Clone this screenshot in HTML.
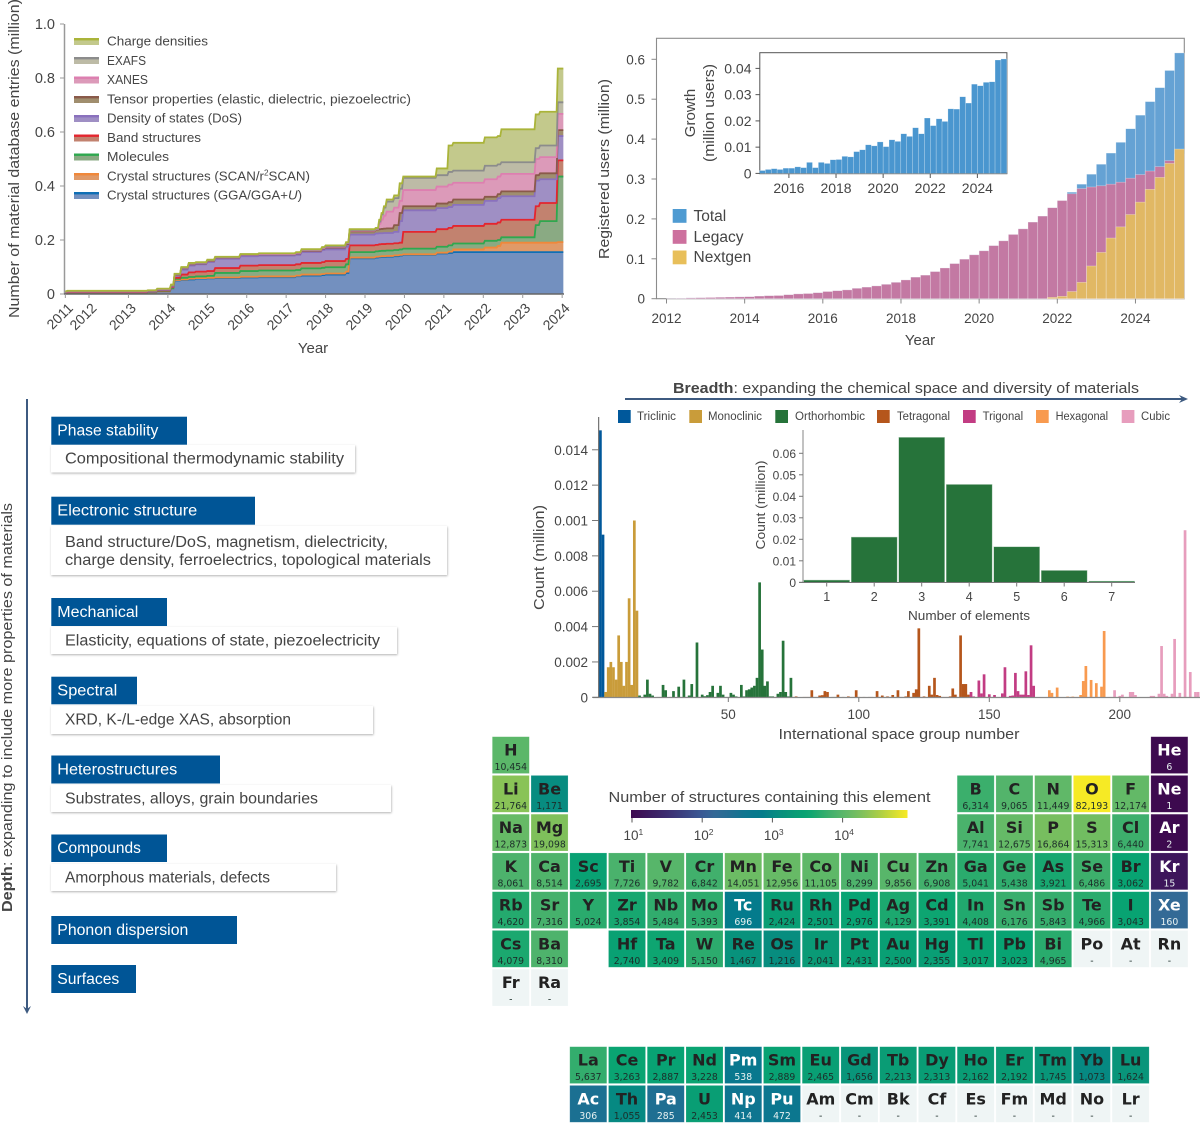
<!DOCTYPE html>
<html lang="en">
<head>
<meta charset="utf-8">
<title>Materials database overview</title>
<style>
html,body{margin:0;padding:0;background:#fff}
svg{display:block}
text{font-family:"Liberation Sans",Arial,sans-serif;fill:#454545}
.cell-sym,.cell-val{font-family:"DejaVu Sans",sans-serif}
.cell-sym{font-weight:700;font-size:16px}
.cell-val{font-size:9.3px}
.hd{fill:#fff;font-size:15.5px}
.bd{fill:#444;font-size:15.5px}
.lg{font-size:13px}
.lc{font-size:11.5px}
.title{font-size:15px}
</style>
</head>
<body>
<svg id="figure" xmlns="http://www.w3.org/2000/svg" width="1200" height="1123" viewBox="0 0 1200 1123">
<defs>
<filter id="soft" x="-5%" y="-20%" width="110%" height="150%"><feDropShadow dx="0.5" dy="1" stdDeviation="1" flood-color="#000" flood-opacity="0.3"/></filter>
<linearGradient id="cbar" x1="0" x2="1" y1="0" y2="0"></linearGradient>
</defs>

<!-- Panel A -->
<g id="panelA">
<g id="aMarks"></g>
<g id="aAxes"></g>
<text class="title" transform="rotate(-90 19 158.5)" x="19" y="158.5" text-anchor="middle" textLength="319" lengthAdjust="spacingAndGlyphs">Number of material database entries (million)</text>
<text class="title" x="313" y="353" text-anchor="middle">Year</text>
<g>
<g><rect x="74" y="38" width="25" height="7" fill="#c3c98c"/><rect x="74" y="38" width="25" height="2.4" fill="#aab43a"/><text class="lg" x="107" y="45.5" textLength="101" lengthAdjust="spacingAndGlyphs">Charge densities</text></g>
<g><rect x="74" y="57" width="25" height="7" fill="#bdbba6"/><rect x="74" y="57" width="25" height="2.4" fill="#8c8c8c"/><text class="lg" x="107" y="65" textLength="39" lengthAdjust="spacingAndGlyphs">EXAFS</text></g>
<g><rect x="74" y="76.500" width="25" height="7" fill="#dc9ab9"/><rect x="74" y="76.500" width="25" height="2.4" fill="#dd7fb0"/><text class="lg" x="107" y="84" textLength="41" lengthAdjust="spacingAndGlyphs">XANES</text></g>
<g><rect x="74" y="96" width="25" height="7" fill="#a08e6e"/><rect x="74" y="96" width="25" height="2.4" fill="#8a5a4a"/><text class="lg" x="107" y="103.500" textLength="304" lengthAdjust="spacingAndGlyphs">Tensor properties (elastic, dielectric, piezoelectric)</text></g>
<g><rect x="74" y="115" width="25" height="7" fill="#9f8fc4"/><rect x="74" y="115" width="25" height="2.4" fill="#8a71bd"/><text class="lg" x="107" y="122.500" textLength="135" lengthAdjust="spacingAndGlyphs">Density of states (DoS)</text></g>
<g><rect x="74" y="134.500" width="25" height="7" fill="#c2826f"/><rect x="74" y="134.500" width="25" height="2.4" fill="#e4252f"/><text class="lg" x="107" y="142" textLength="94" lengthAdjust="spacingAndGlyphs">Band structures</text></g>
<g><rect x="74" y="153.500" width="25" height="7" fill="#8aaa83"/><rect x="74" y="153.500" width="25" height="2.4" fill="#2ea84f"/><text class="lg" x="107" y="161" textLength="62" lengthAdjust="spacingAndGlyphs">Molecules</text></g>
<g><rect x="74" y="173" width="25" height="7" fill="#e09a68"/><rect x="74" y="173" width="25" height="2.4" fill="#f0883a"/><text class="lg" x="107" y="180.500" textLength="203" lengthAdjust="spacingAndGlyphs">Crystal structures (SCAN/r<tspan dy="-5" font-size="8">2</tspan><tspan dy="5">SCAN)</tspan></text></g>
<g><rect x="74" y="192" width="25" height="7" fill="#7390bf"/><rect x="74" y="192" width="25" height="2.4" fill="#0f6fb5"/><text class="lg" x="107" y="199.500" textLength="195" lengthAdjust="spacingAndGlyphs">Crystal structures (GGA/GGA+<tspan font-style="italic">U</tspan>)</text></g>
</g>
</g>

<!-- Panel B -->
<g id="panelB">
<rect x="656.500" y="38.300" width="527.800" height="260.400" fill="#fff" stroke="#8c8c8c" stroke-width="1.100"/>
<g id="bMarks"></g>
<g id="bAxes"></g>
<text class="title" transform="rotate(-90 609 169)" x="609" y="169" text-anchor="middle" textLength="180" lengthAdjust="spacingAndGlyphs">Registered users (million)</text>
<text class="title" x="920" y="345" text-anchor="middle">Year</text>
<g>
<g><rect x="672.700" y="209" width="13.800" height="13.800" fill="#4f9bd2"/><text x="693.500" y="221" font-size="15.500">Total</text></g>
<g><rect x="672.700" y="230" width="13.800" height="13.800" fill="#cd709e"/><text x="693.500" y="242" font-size="15.500">Legacy</text></g>
<g><rect x="672.700" y="250.500" width="13.800" height="13.800" fill="#e8bf5a"/><text x="693.500" y="262" font-size="15.500">Nextgen</text></g>
</g>
<rect x="759.800" y="52.700" width="247.100" height="121" fill="#fff" stroke="#555" stroke-width="1"/>
<g id="gMarks"></g>
<g id="gAxes"></g>
<text class="title" transform="rotate(-90 695 113)" x="695" y="113" text-anchor="middle">Growth</text>
<text class="title" transform="rotate(-90 714 113)" x="714" y="113" text-anchor="middle" textLength="98" lengthAdjust="spacingAndGlyphs">(million users)</text>
</g>

<!-- Panel C: depth -->
<g id="panelDepth">
<text class="title" transform="rotate(-90 12 707.500)" x="12" y="707.500" text-anchor="middle" textLength="409" lengthAdjust="spacingAndGlyphs"><tspan font-weight="700">Depth</tspan>: expanding to include more properties of materials</text>
<g><line x1="27" y1="399" x2="27" y2="1009" stroke="#3d5a80" stroke-width="2"/><path d="M23 1006 L27 1014 L31 1006 L27 1009 Z" fill="#3d5a80"/></g>

<g>
<rect x="51" y="445" width="304" height="27.500" fill="#fff" filter="url(#soft)"/><rect x="51.300" y="416.700" width="135.700" height="28" fill="#005596"/>
<text class="hd" x="57.300" y="435.500" textLength="101" lengthAdjust="spacingAndGlyphs">Phase stability</text>
<text class="bd" x="65" y="463.500" textLength="279" lengthAdjust="spacingAndGlyphs">Compositional thermodynamic stability</text></g>

<g>
<rect x="51" y="526" width="396" height="49" fill="#fff" filter="url(#soft)"/><rect x="51.300" y="496.700" width="203.700" height="28" fill="#005596"/>
<text class="hd" x="57.300" y="515.500" textLength="140" lengthAdjust="spacingAndGlyphs">Electronic structure</text>
<text class="bd" x="65" y="547" textLength="323" lengthAdjust="spacingAndGlyphs">Band structure/DoS, magnetism, dielectricity,</text>
<text class="bd" x="65" y="565" textLength="366" lengthAdjust="spacingAndGlyphs">charge density, ferroelectrics, topological materials</text></g>

<g>
<rect x="51" y="627" width="346" height="27" fill="#fff" filter="url(#soft)"/><rect x="51.300" y="598" width="115.700" height="28" fill="#005596"/>
<text class="hd" x="57.300" y="616.800" textLength="81" lengthAdjust="spacingAndGlyphs">Mechanical</text>
<text class="bd" x="65" y="645.500" textLength="315" lengthAdjust="spacingAndGlyphs">Elasticity, equations of state, piezoelectricity</text></g>

<g>
<rect x="51" y="706" width="322" height="28" fill="#fff" filter="url(#soft)"/><rect x="51.300" y="676.700" width="85.700" height="27.600" fill="#005596"/>
<text class="hd" x="57.300" y="695.500" textLength="60" lengthAdjust="spacingAndGlyphs">Spectral</text>
<text class="bd" x="65" y="724.500" textLength="226" lengthAdjust="spacingAndGlyphs">XRD, K-/L-edge XAS, absorption</text></g>

<g>
<rect x="51" y="785" width="340" height="27" fill="#fff" filter="url(#soft)"/><rect x="51.300" y="755.500" width="168.700" height="28" fill="#005596"/>
<text class="hd" x="57.300" y="774.300" textLength="120" lengthAdjust="spacingAndGlyphs">Heterostructures</text>
<text class="bd" x="65" y="803.500" textLength="253" lengthAdjust="spacingAndGlyphs">Substrates, alloys, grain boundaries</text></g>

<g>
<rect x="51" y="864" width="285" height="27" fill="#fff" filter="url(#soft)"/><rect x="51.300" y="834.500" width="115.700" height="27.500" fill="#005596"/>
<text class="hd" x="57.300" y="853">Compounds</text>
<text class="bd" x="65" y="882.500" textLength="205" lengthAdjust="spacingAndGlyphs">Amorphous materials, defects</text></g>

<g>
<rect x="51.300" y="916" width="185.700" height="28" fill="#005596"/>
<text class="hd" x="57.300" y="935" textLength="131" lengthAdjust="spacingAndGlyphs">Phonon dispersion</text></g>

<g>
<rect x="51.300" y="965" width="84.700" height="28" fill="#005596"/>
<text class="hd" x="57.300" y="983.800" textLength="62" lengthAdjust="spacingAndGlyphs">Surfaces</text></g>
</g>

<!-- Panel D: breadth -->
<g id="panelBreadth">
<text class="title" x="673" y="393" textLength="466" lengthAdjust="spacingAndGlyphs"><tspan font-weight="700">Breadth</tspan>: expanding the chemical space and diversity of materials</text>
<g><line x1="625" y1="399" x2="1182" y2="399" stroke="#3d5a80" stroke-width="2"/><path d="M1179 395 L1188 399 L1179 403 L1182 399 Z" fill="#3d5a80"/></g>
<g>
<g><rect x="618" y="410" width="12.700" height="13" fill="#00589b"/><text class="lc" x="637" y="420" textLength="39" lengthAdjust="spacingAndGlyphs">Triclinic</text></g>
<g><rect x="689.300" y="410" width="12.700" height="13" fill="#c99c3a"/><text class="lc" x="708" y="420" textLength="54" lengthAdjust="spacingAndGlyphs">Monoclinic</text></g>
<g><rect x="775.300" y="410" width="12.700" height="13" fill="#26733a"/><text class="lc" x="795" y="420" textLength="70" lengthAdjust="spacingAndGlyphs">Orthorhombic</text></g>
<g><rect x="877" y="410" width="12.700" height="13" fill="#b5561c"/><text class="lc" x="897" y="420" textLength="53" lengthAdjust="spacingAndGlyphs">Tetragonal</text></g>
<g><rect x="963" y="410" width="12.700" height="13" fill="#c23c83"/><text class="lc" x="982.600" y="420" textLength="40.500" lengthAdjust="spacingAndGlyphs">Trigonal</text></g>
<g><rect x="1036" y="410" width="12.700" height="13" fill="#f89a4f"/><text class="lc" x="1055.600" y="420" textLength="52.500" lengthAdjust="spacingAndGlyphs">Hexagonal</text></g>
<g><rect x="1121.700" y="410" width="12.700" height="13" fill="#e79dbd"/><text class="lc" x="1141" y="420" textLength="29" lengthAdjust="spacingAndGlyphs">Cubic</text></g>
</g>
<g id="cMarks"></g>
<g id="cAxes"></g>
<text class="title" transform="rotate(-90 544 557.500)" x="544" y="557.500" text-anchor="middle" textLength="105" lengthAdjust="spacingAndGlyphs">Count (million)</text>
<text class="title" x="899" y="739" text-anchor="middle" textLength="241" lengthAdjust="spacingAndGlyphs">International space group number</text>
<g id="iMarks"></g>
<g id="iAxes"></g>
<text transform="rotate(-90 765 505)" x="765" y="505" font-size="13" text-anchor="middle" textLength="89" lengthAdjust="spacingAndGlyphs">Count (million)</text>
<text x="969" y="620" font-size="13" text-anchor="middle" textLength="122" lengthAdjust="spacingAndGlyphs">Number of elements</text>
</g>

<!-- Periodic table -->
<g id="panelTable">
<g id="tableCells"></g>
<text class="title" x="608.500" y="802" textLength="322" lengthAdjust="spacingAndGlyphs">Number of structures containing this element</text>
<rect id="cbarRect" x="631" y="810" width="276.500" height="8" fill="url(#cbar)"/>
<g id="cbarAxis"></g>
</g>
</svg>

<script>
// ---------- Panel A data ----------
const entryDates = [2011.40,2011.45,2013.49,2013.73,2014.08,2014.17,2014.34,2014.53,2014.71,2015.00,2015.20,2015.84,2016.31,2017.25,2017.39,2017.91,2018.00,2018.52,2018.61,2019.27,2019.36,2019.42,2019.48,2019.55,2019.74,2019.88,2019.97,2020.82,2021.12,2021.24,2022.04,2022.37,2022.46,2023.33,2023.44,2023.89,2024.03];
const ggaTop = [.002,.003,.005,.01,.02,.05,.052,.054,.057,.058,.059,.061,.062,.066,.068,.07,.072,.078,.132,.135,.136,.137,.137,.138,.14,.142,.145,.15,.152,.155,.155,.155,.155,.155,.155,.155,.155];
const scanTop = [.002,.003,.005,.01,.021,.052,.054,.057,.059,.06,.061,.064,.065,.068,.072,.074,.076,.083,.135,.138,.139,.14,.14,.141,.143,.145,.147,.153,.157,.165,.172,.178,.19,.19,.19,.192,.192];
const moleculesTop = [.003,.004,.006,.011,.022,.056,.06,.063,.065,.067,.078,.085,.087,.089,.095,.097,.099,.11,.155,.158,.159,.16,.16,.161,.163,.165,.168,.175,.18,.187,.197,.2,.21,.255,.27,.435,.435];
const bandTop = [.004,.006,.008,.013,.025,.06,.072,.08,.083,.085,.096,.105,.107,.11,.115,.118,.122,.13,.18,.182,.184,.185,.185,.186,.188,.19,.23,.24,.245,.252,.26,.265,.275,.325,.337,.495,.495];
const dosTop = [.006,.008,.009,.015,.028,.068,.09,.105,.11,.118,.13,.14,.142,.145,.155,.163,.165,.175,.22,.224,.225,.225,.226,.226,.23,.27,.31,.318,.322,.33,.345,.355,.362,.42,.425,.585,.585];
const tensorTop = [.007,.009,.011,.017,.03,.07,.095,.11,.113,.122,.135,.145,.147,.15,.16,.168,.172,.185,.232,.238,.24,.241,.242,.243,.255,.3,.325,.335,.34,.35,.36,.37,.38,.44,.447,.607,.607];
const xanesTop = [.008,.01,.012,.018,.032,.072,.097,.112,.115,.124,.136,.146,.148,.152,.162,.17,.175,.188,.235,.24,.26,.275,.29,.305,.32,.345,.385,.398,.405,.412,.425,.435,.445,.5,.507,.667,.667];
const exafsTop = [.009,.011,.013,.019,.033,.073,.098,.113,.116,.125,.137,.147,.15,.154,.164,.172,.177,.19,.237,.242,.268,.295,.32,.342,.355,.39,.43,.44,.452,.457,.475,.48,.488,.54,.55,.71,.71];
const chargeTop = [.01,.012,.014,.02,.035,.075,.1,.115,.118,.127,.138,.148,.151,.155,.166,.174,.18,.192,.24,.245,.275,.3,.325,.35,.365,.41,.435,.465,.55,.56,.58,.585,.61,.665,.675,.835,.835];
const entryLayerNames = ['crystal-gga','crystal-scan','molecules','band-structures','density-of-states','tensor-properties','xanes','exafs','charge-densities'];
const entryYTicks = [0,0.2,0.4,0.6,0.8,1.0];
const entryYLabels = ['0','0.2','0.4','0.6','0.8','1.0'];
const entryXTicks = [2011.4,2012,2013,2014,2015,2016,2017,2018,2019,2020,2021,2022,2023,2024];
const entryXLabels = ['2011','2012','2013','2014','2015','2016','2017','2018','2019','2020','2021','2022','2023','2024'];

// ---------- Panel B data ----------
const userQuarterStart = 2012;
const legacyUsers = [.0005,.001,.002,.0025,.003,.0035,.004,.0045,.005,.0065,.0075,.008,.01,.012,.013,.015,.018,.02,.022,.026,.029,.032,.036,.041,.047,.054,.059,.068,.077,.088,.099,.11,.12,.133,.145,.161,.175,.192,.207,.228,.246,.263,.276,.28,.283,.287,.292,.302,.311,.32,.331,.346,.3625];
const totalUsers = [.0005,.001,.002,.0025,.003,.0035,.004,.0045,.005,.0065,.0075,.008,.01,.012,.013,.015,.018,.02,.022,.026,.029,.032,.036,.041,.047,.054,.059,.068,.077,.088,.099,.11,.12,.133,.145,.161,.175,.192,.207,.228,.246,.267,.287,.312,.337,.365,.392,.426,.46,.494,.529,.572,.616];
const nextgenUsers = [0,0,0,0,0,0,0,0,0,0,0,0,0,0,0,0,0,0,0,0,0,0,0,0,0,0,0,0,0,0,0,0,0,0,0,0,0,0,0,.0035,.006,.018,.041,.082,.116,.152,.18,.211,.242,.274,.304,.339,.375];
const userYTicks = [0,0.1,0.2,0.3,0.4,0.5,0.6];
const userYLabels = ['0','0.1','0.2','0.3','0.4','0.5','0.6'];
const userXTicks = [2012,2014,2016,2018,2020,2022,2024];
const userXLabels = ['2012','2014','2016','2018','2020','2022','2024'];

const growthQuarterStart = 2014.75;
const growthUsers = [.0011,.0015,.0018,.0015,.002,.002,.0025,.0022,.0042,.0022,.0042,.0038,.0052,.0053,.0065,.0063,.0083,.009,.0109,.0105,.012,.0102,.0128,.0122,.0151,.0141,.0174,.0151,.0211,.0182,.0208,.0198,.0246,.0245,.0292,.0268,.034,.0334,.0347,.0349,.0432,.0436];
const growthYTicks = [0,0.01,0.02,0.03,0.04];
const growthYLabels = ['0','0.01','0.02','0.03','0.04'];
const growthXTicks = [2016,2018,2020,2022,2024];
const growthXLabels = ['2016','2018','2020','2022','2024'];

// ---------- Space group data ----------
const crystalSystems = ['triclinic','monoclinic','orthorhombic','tetragonal','trigonal','hexagonal','cubic'];
const firstSpaceGroup = [1,3,16,75,143,168,195];
const triclinicCounts = [.0151,.0092];
const monoclinicCounts = [.0003,.0017,.002,.0017,.001,.0035,.002,.00065,.002,.0056,.0007,.01,.0049];
const orthorhombicCounts = [.0001,.00002,.00015,.001,.0002,.0001,0,.00002,.00002,.0007,.0004,0,.00002,.00035,0,.0006,.00002,.001,.00002,.0001,.00075,.00002,.0031,.00002,.00015,.00006,.00012,.0003,.00065,.00002,.00025,.00065,.00015,.00002,.00002,.00025,.00015,.00005,.00002,.0007,.00005,.0004,.00045,.00055,.00065,.0011,.0065,.0027,.00065,.0009,.00005,.00005,.00002,.0002,.0003,.0032,.0003,.00005,.0011];
const tetragonalCounts = [.00002,.00005,0,0,.00002,.00002,.00002,.0004,.00002,.00002,.0001,.00012,.00035,.0003,0,.00002,.00002,.00015,0,.00002,0,.00005,.00002,.00002,.0004,.00002,0,.00002,0,.00002,.00002,0,.00035,.00002,.0001,.00002,.00005,.00002,.00013,.00002,.0004,.00002,.00002,.00005,.00035,.00002,.00025,.00045,.0039,.00002,.00005,.00002,.00065,.00015,.0011,.00013,.00008,.00002,.00002,.00002,.00005,.0005,.00015,.00002,.0035,.00075,.00075,.00015];
const trigonalCounts = [.0003,.00005,.00002,.00095,.00022,.0013,.00002,.00017,.00002,.00013,.00002,.00002,.00022,.0017,.00002,.00008,.0001,.00138,.00035,.00015,.00015,.00147,.00013,.00294,.00065];
const hexagonalCounts = [0,0,0,0,0,.0004,.00025,.00002,.00055,0,0,0,.00004,.00002,.00004,.00002,.00002,.00013,.00092,.00177,.00002,.00098,.00002,.0008,.00002,.0006,.00375];
const cubicCounts = [0,.00002,.00002,.0004,.00002,.00008,.00015,.00002,.00002,.0003,.0003,.00013,0,0,0,0,.00002,.00008,.00008,.00002,.0002,.0029,.0002,.00008,.00002,.0002,.0033,.00002,.00025,.00002,.00945,.00002,.00143,.00002,.0003,.0003];
const spaceYTicks = [0,.002,.004,.006,.008,.01,.012,.014];
const spaceYLabels = ['0','0.002','0.004','0.006','0.008','0.001','0.012','0.014'];
const spaceXTicks = [50,100,150,200];
const spaceXLabels = ['50','100','150','200'];

const elementCountCategories = [1,2,3,4,5,6,7];
const elementCountValues = [.0009,.0209,.0673,.0454,.0164,.0054,.0004];
const insetYTicks = [0,.01,.02,.03,.04,.05,.06];
const insetYLabels = ['0','0.01','0.02','0.03','0.04','0.05','0.06'];

// ---------- Periodic table data ----------
const tableRowNumbers = [1,2,3,4,5,6,7,9,10];
const tableSymbols = [
 'H . . . . . . . . . . . . . . . . He',
 'Li Be . . . . . . . . . . B C N O F Ne',
 'Na Mg . . . . . . . . . . Al Si P S Cl Ar',
 'K Ca Sc Ti V Cr Mn Fe Co Ni Cu Zn Ga Ge As Se Br Kr',
 'Rb Sr Y Zr Nb Mo Tc Ru Rh Pd Ag Cd In Sn Sb Te I Xe',
 'Cs Ba . Hf Ta W Re Os Ir Pt Au Hg Tl Pb Bi Po At Rn',
 'Fr Ra',
 '. . La Ce Pr Nd Pm Sm Eu Gd Tb Dy Ho Er Tm Yb Lu',
 '. . Ac Th Pa U Np Pu Am Cm Bk Cf Es Fm Md No Lr'
];
const tableCounts = [
 [10454,6],
 [21764,1171,6314,9065,11449,82193,12174,1],
 [12873,19098,7741,12675,16864,15313,6440,2],
 [8061,8514,2695,7726,9782,6842,14051,12956,11105,8299,9856,6908,5041,5438,3921,6486,3062,15],
 [4620,7316,5024,3854,5484,5393,696,2424,2501,2976,4129,3391,4408,6176,5843,4966,3043,160],
 [4079,8310,2740,3409,5150,1467,1216,2041,2431,2500,2355,3017,3023,4965,null,null,null],
 [null,null],
 [5637,3263,2887,3228,538,2889,2465,1656,2213,2313,2162,2192,1745,1073,1624],
 [306,1055,285,2453,414,472,null,null,null,null,null,null,null,null,null]
];
const colorbarTickPowers = [1,2,3,4];

// ---------- helpers ----------
const SVGNS = 'http://www.w3.org/2000/svg';
const STEP_SLANT = 1.2;
function make(parent, tag, attrs, label) {
  const el = document.createElementNS(SVGNS, tag);
  for (const k in attrs) el.setAttribute(k, attrs[k]);
  if (label !== undefined) el.textContent = label;
  parent.appendChild(el);
  return el;
}
function stepPath(xs, ys) {
  let d = 'M' + xs[0].toFixed(2) + ' ' + ys[0].toFixed(2);
  for (let i = 1; i < xs.length; i++) {
    d += 'L' + (xs[i] - STEP_SLANT).toFixed(2) + ' ' + ys[i-1].toFixed(2);
    d += 'L' + xs[i].toFixed(2) + ' ' + ys[i].toFixed(2);
  }
  return d;
}
function reverseStep(xs, ys) {
  let d = 'L' + xs[xs.length-1].toFixed(2) + ' ' + ys[ys.length-1].toFixed(2);
  for (let i = xs.length - 1; i >= 1; i--) {
    d += 'L' + (xs[i] - STEP_SLANT).toFixed(2) + ' ' + ys[i-1].toFixed(2);
    d += 'L' + xs[i-1].toFixed(2) + ' ' + ys[i-1].toFixed(2);
  }
  return d;
}
function drawTick(parent, x1, y1, x2, y2, color, name) {
  const el = make(parent, 'line', {x1:x1, y1:y1, x2:x2, y2:y2, stroke:color, 'stroke-width':1});
  
  
}
function drawLabel(parent, x, y, label, anchor, size, name, extra) {
  const el = make(parent, 'text', Object.assign({x:x, y:y, 'text-anchor':anchor, 'font-size':size}, extra || {}), label);
  
  
}

// ---------- Panel A ----------
(function () {
  const marks = document.getElementById('aMarks');
  const axes = document.getElementById('aAxes');
  const xA = v => 89 + (v - 2012) * 39.43;
  const yA = v => 294 - v * 270;
  const layers = [ggaTop, scanTop, moleculesTop, bandTop, dosTop, tensorTop, xanesTop, exafsTop, chargeTop];
  const fills = ['#7390bf','#e09a68','#8aaa83','#c2826f','#9f8fc4','#a08e6e','#dc9ab9','#bdbba6','#c3c98c'];
  const lines = ['#0f6fb5','#f0883a','#2ea84f','#e4252f','#8a71bd','#8a5a4a','#dd7fb0','#8c8c8c','#aab43a'];
  const xs = entryDates.map(xA);
  layers.forEach((layer, i) => {
    const top = layer.map(yA);
    const bottom = i === 0 ? layer.map(() => yA(0)) : layers[i - 1].map(yA);
    const area = make(marks, 'path', {d: stepPath(xs, top) + reverseStep(xs, bottom) + 'Z', fill: fills[i]});
    
    
  });
  layers.forEach((layer, i) => {
    const line = make(marks, 'path', {d: stepPath(xs, layer.map(yA)), fill:'none', stroke: lines[i], 'stroke-width':1.8});
    
    
  });
  const yLine = make(axes, 'line', {x1:64.5, y1:yA(1), x2:64.5, y2:yA(0), stroke:'#999', 'stroke-width':1.5});
  
  
  const xLine = make(axes, 'line', {x1:64, y1:yA(0), x2:564, y2:yA(0), stroke:'#666', 'stroke-width':1.5});
  
  
  entryYTicks.forEach((t, i) => {
    drawTick(axes, 60, yA(t), 64, yA(t), '#999', 'y-tick');
    drawLabel(axes, 55, yA(t) + 5, entryYLabels[i], 'end', 14.5, 'y-tick-label');
  });
  entryXTicks.forEach((t, i) => {
    drawTick(axes, xA(t), 294, xA(t), 298, '#999', 'x-tick');
    const px = xA(t) + 8.5, py = 309;
    drawLabel(axes, px, py, entryXLabels[i], 'end', 14, 'x-tick-label', {transform:'rotate(-45 ' + px + ' ' + py + ')'});
  });
})();

// ---------- Panel B ----------
(function () {
  const marks = document.getElementById('bMarks');
  const axes = document.getElementById('bAxes');
  const xB = v => 666.5 + (v - 2012) * 39.08;
  const yB = v => 298.7 - v * 399;
  const w = 39.08 / 4;
  function barSeries(values, fill, name) {
    values.forEach((v, i) => {
      if (v <= 0) return;
      const bar = make(marks, 'rect', {x: xB(userQuarterStart + i * 0.25), y: yB(v), width: w, height: yB(0) - yB(v), fill: fill, stroke:'rgba(255,255,255,.45)', 'stroke-width':0.6});
      
      
    });
  }
  barSeries(totalUsers, '#65a2d4', 'bar-total');
  barSeries(legacyUsers, '#c379a3', 'bar-legacy');
  barSeries(nextgenUsers, '#e1b864', 'bar-nextgen');
  userYTicks.forEach((t, i) => {
    drawTick(axes, 651.5, yB(t), 656.5, yB(t), '#888', 'users-y-tick');
    drawLabel(axes, 645, yB(t) + 5, userYLabels[i], 'end', 13.5, 'users-y-tick-label');
  });
  userXTicks.forEach((t, i) => {
    drawTick(axes, xB(t), 298.7, xB(t), 303.5, '#888', 'users-x-tick');
    drawLabel(axes, xB(t), 323, userXLabels[i], 'middle', 13.5, 'users-x-tick-label');
  });
  const gm = document.getElementById('gMarks');
  const ga = document.getElementById('gAxes');
  const xG = v => 788.9 + (v - 2016) * 23.56;
  const yG = v => 173.4 - v * 2625;
  growthUsers.forEach((v, i) => {
    const bar = make(gm, 'rect', {x: xG(growthQuarterStart + i * 0.25), y: yG(v), width: 23.56 / 4, height: yG(0) - yG(v), fill:'#4a96cf', stroke:'rgba(255,255,255,.45)', 'stroke-width':0.5});
    
    
  });
  growthYTicks.forEach((t, i) => {
    drawTick(ga, 755.5, yG(t), 759.8, yG(t), '#555', 'growth-y-tick');
    drawLabel(ga, 751.5, yG(t) + 5, growthYLabels[i], 'end', 14, 'growth-y-tick-label');
  });
  growthXTicks.forEach((t, i) => {
    drawTick(ga, xG(t), 173.7, xG(t), 178, '#555', 'growth-x-tick');
    drawLabel(ga, xG(t), 193, growthXLabels[i], 'middle', 14, 'growth-x-tick-label');
  });
})();

// ---------- Space group panel ----------
(function () {
  const marks = document.getElementById('cMarks');
  const axes = document.getElementById('cAxes');
  const xC = v => 728.3 + (v - 50) * 2.61;
  const yC = v => 697.3 - v * 17680;
  const systemCounts = [triclinicCounts, monoclinicCounts, orthorhombicCounts, tetragonalCounts, trigonalCounts, hexagonalCounts, cubicCounts];
  const systemColors = ['#00589b','#c99c3a','#26733a','#b5561c','#c23c83','#f89a4f','#e79dbd'];
  systemCounts.forEach((counts, s) => {
    counts.forEach((v, i) => {
      if (v <= 0) return;
      const sg = firstSpaceGroup[s] + i;
      const bar = make(marks, 'rect', {x: xC(sg) - 1.35, y: yC(v), width: 2.7, height: yC(0) - yC(v), fill: systemColors[s]});
      
      
    });
  });
  const yLine = make(axes, 'line', {x1:598.7, y1:417, x2:598.7, y2:697.3, stroke:'#555', 'stroke-width':1});
  
  
  const xLine = make(axes, 'line', {x1:593, y1:697.5, x2:1200, y2:697.5, stroke:'#888', 'stroke-width':1.2});
  
  
  spaceYTicks.forEach((t, i) => {
    drawTick(axes, 592, yC(t), 598.7, yC(t), '#777', 'space-y-tick');
    drawLabel(axes, 588, yC(t) + 5, spaceYLabels[i], 'end', 13.5, 'space-y-tick-label');
  });
  spaceXTicks.forEach((t, i) => {
    drawTick(axes, xC(t), 697.5, xC(t), 702, '#777', 'space-x-tick');
    drawLabel(axes, xC(t), 719, spaceXLabels[i], 'middle', 13.5, 'space-x-tick-label');
  });

  const im = document.getElementById('iMarks');
  const ia = document.getElementById('iAxes');
  const xI = v => 826.7 + (v - 1) * 47.5;
  const yI = v => 582.3 - v * 2150;
  elementCountValues.forEach((v, i) => {
    const c = elementCountCategories[i];
    const bar = make(im, 'rect', {x: xI(c) - 22.7, y: yI(v), width: 45.4, height: yI(0) - yI(v), fill:'#26733a', stroke:'rgba(38,115,58,.4)', 'stroke-width':1});
    
    
  });
  const iy = make(ia, 'line', {x1:803, y1:430, x2:803, y2:582.5, stroke:'#999', 'stroke-width':1.2});
  
  
  const ix = make(ia, 'line', {x1:799, y1:582.5, x2:1135, y2:582.5, stroke:'#777', 'stroke-width':1});
  
  
  insetYTicks.forEach((t, i) => {
    drawTick(ia, 799, yI(t), 803, yI(t), '#777', 'inset-y-tick');
    drawLabel(ia, 796, yI(t) + 4.5, insetYLabels[i], 'end', 12, 'inset-y-tick-label');
  });
  elementCountCategories.forEach(c => {
    drawTick(ia, xI(c), 582.5, xI(c), 586.5, '#777', 'inset-x-tick');
    drawLabel(ia, xI(c), 601, String(c), 'middle', 12.5, 'inset-x-tick-label');
  });
})();

// ---------- Periodic table ----------
(function () {
  const anchors = [[0,'#3d0a4f'],[1,'#3d0a4f'],[1.5,'#3c2c70'],[2,'#3a5a95'],[2.2,'#336a96'],[2.45,'#1f6f92'],[2.6,'#0f7590'],[2.84,'#047b8c'],[3.07,'#078c80'],[3.3,'#0a9a76'],[3.5,'#08a472'],[3.7,'#2aab6d'],[3.9,'#4cb26c'],[4.1,'#65ba67'],[4.3,'#82c15a'],[4.6,'#b8d23f'],[4.92,'#f7ea25']];
  function hex(c) { return [1,3,5].map(i => parseInt(c.substr(i,2),16)); }
  function colorFor(lg) {
    if (lg <= anchors[0][0]) return anchors[0][1];
    for (let i = 1; i < anchors.length; i++) {
      if (lg <= anchors[i][0]) {
        const t = (lg - anchors[i-1][0]) / (anchors[i][0] - anchors[i-1][0]);
        const a = hex(anchors[i-1][1]), b = hex(anchors[i][1]);
        return 'rgb(' + a.map((v,k) => Math.round(v + (b[k]-v)*t)).join(',') + ')';
      }
    }
    return anchors[anchors.length-1][1];
  }
  const cells = document.getElementById('tableCells');
  const xCol = c => 492.3 + c * 38.74;
  const yRow = r => 736.7 + (r - 1) * 38.75;
  tableSymbols.forEach((rowText, r) => {
    let n = 0;
    rowText.split(' ').forEach((sym, c) => {
      if (sym === '.') return;
      const count = tableCounts[r][n++];
      const x = xCol(c), y = yRow(tableRowNumbers[r]);
      const empty = count === null;
      const light = !empty && count < 1000;
      const g = make(cells, 'g', {});
      
      
      const rect = make(g, 'rect', {x:x, y:y, width:37, height:36.8, fill: empty ? '#eff5f5' : colorFor(Math.log10(count)), stroke:'rgba(255,255,255,.25)', 'stroke-width':0.6});
      
      
      const s = make(g, 'text', {class:'cell-sym', x:x+18.5, y:y+19, 'text-anchor':'middle', style:'fill:' + (light ? '#fff' : '#222')}, sym);
      
      
      const v = make(g, 'text', {class:'cell-val', x:x+18.5, y:y+33.3, 'text-anchor':'middle', style:'fill:' + (light ? '#e8f2f2' : '#1c2e2a')}, empty ? '-' : count.toLocaleString('en-US'));
      
      
    });
  });
  const grad = document.getElementById('cbar');
  const lo = 1 - 1 / 70.2, hi = 4.93;
  for (let i = 0; i <= 40; i++) {
    const lg = lo + (hi - lo) * i / 40;
    make(grad, 'stop', {offset: (i / 40 * 100) + '%', 'stop-color': colorFor(lg)});
  }
  const ax = document.getElementById('cbarAxis');
  const xP = p => 632 + (p - 1) * 70.2;
  colorbarTickPowers.forEach(p => {
    drawTick(ax, xP(p), 818, xP(p), 822.5, '#555', 'colorbar-tick');
    const t = make(ax, 'text', {x: xP(p) - 8.5, y: 840, 'font-size': 13.5}, '10');
    
    
    const sup = make(t, 'tspan', {dy: -5, 'font-size': 8.5}, String(p));
    
    
  });
})();
</script>
</body>
</html>
